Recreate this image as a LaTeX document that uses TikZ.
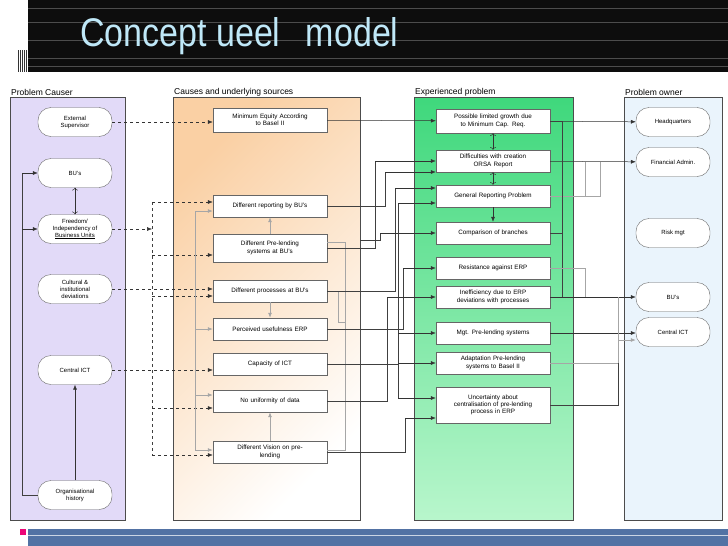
\documentclass[tikz,border=0pt]{standalone}
\usepackage{fontspec}
\setmainfont{Liberation Sans}
\usetikzlibrary{arrows.meta}
\definecolor{lav}{HTML}{E2DAF8}
\definecolor{org}{HTML}{FAD0A4}
\definecolor{grn}{HTML}{3FD87C}
\definecolor{grn2}{HTML}{B8F6CC}
\definecolor{own}{HTML}{EAF4FC}
\definecolor{ttl}{HTML}{BFE8F8}
\definecolor{bar}{HTML}{5272A4}
\tikzset{
 panel/.style={draw=black!70,line width=0.8pt},
 ptitle/.style={anchor=south west,inner sep=1pt,font=\fontsize{8.5}{8.5}\selectfont},
 pill/.style={draw=black!60,fill=white,rounded corners=13pt,minimum width=74pt,minimum height=29pt,align=center,font=\fontsize{6}{7}\selectfont,inner sep=1pt},
 cbox/.style={draw=black!60,fill=white,minimum width=114pt,minimum height=22pt,align=center,font=\fontsize{6.3}{7.3}\selectfont,inner sep=1pt,text width=110pt},
 ar/.style={-{Latex[length=5pt,width=4pt]},black!80,line width=0.5pt},
 dar/.style={ar,dashed},
 gar/.style={-{Latex[length=5pt,width=4pt]},black!35,line width=0.8pt},
 ln/.style={black!75,line width=0.6pt},
 gln/.style={black!35,line width=0.9pt},
}
\begin{document}
\begin{tikzpicture}[x=1pt,y=-1pt]
\useasboundingbox (0,0) rectangle (728,546);
\fill[white] (0,0) rectangle (728,546);
% title bar
\fill[black!95] (28,0) rectangle (728,72);
\foreach \yy in {8,22,40,58,66} \draw[black!70,line width=0.3pt] (28,\yy) -- (728,\yy);
\foreach \xx in {18,20,22,24,26} \draw[black!80,line width=0.8pt] (\xx,50) -- (\xx,72);
\node[anchor=base west,text=ttl,inner sep=0,font=\fontsize{40}{40}\selectfont,xscale=0.85] (title) at (80,46) {Concept ueel\hspace{30pt}model};
% bottom bar
\fill[bar] (28,529) rectangle (728,546);
\draw[white!70!bar,line width=0.4pt] (28,535) -- (728,535);
\fill[magenta!80!red] (20,529) rectangle (26,535);
% panels
\draw[panel,fill=lav] (10,97) rectangle (125,520);
\shade[left color=org,right color=white,shading angle=45] (173,97) rectangle (360,520);
\draw[panel] (173,97) rectangle (360,520);
\shade[top color=grn,bottom color=grn2] (414,97) rectangle (573,520);
\draw[panel] (414,97) rectangle (573,520);
\draw[panel,fill=own] (624,97) rectangle (722,520);
\node[ptitle] (t1) at (10,97) {Problem Causer};
\node[ptitle] (t2) at (173,97) {Causes and underlying sources};
\node[ptitle] (t3) at (414,97) {Experienced problem};
\node[ptitle] (t4) at (624,97) {Problem owner};
% causer
\node[pill] (es) at (75,122) {External\\Supervisor};
\node[pill] (bu) at (75,173) {BU's};
\node[pill] (fr) at (75,229) {Freedom/\\Independency of\\\underline{Business Units}};
\node[pill] (cu) at (75,289) {Cultural \&\\institutional\\deviations};
\node[pill] (ci) at (75,370) {Central ICT};
\node[pill] (oh) at (75,495) {Organisational\\history};
% causes
\node[cbox,minimum height=24pt] (me) at (270,120) {Minimum Equity According\\to Basel II};
\node[cbox] (dr) at (270,206) {Different reporting by BU's};
\node[cbox,minimum height=28pt] (dp) at (270,248) {Different Pre-lending\\systems at BU's};
\node[cbox] (dpr) at (270,291) {Different processes at BU's};
\node[cbox] (pu) at (270,329) {Perceived usefulness ERP};
\node[cbox] (cap) at (270,364) {Capacity of ICT};
\node[cbox] (nu) at (270,401) {No uniformity of data};
\node[cbox] (dv) at (270,452) {Different Vision on pre-\\lending};
% experienced
\node[cbox,minimum height=24pt] (pg) at (493,121) {Possible limited growth due\\to Minimum Cap. Req.};
\node[cbox] (df) at (493,161) {Difficulties with creation\\ORSA Report};
\node[cbox] (gr) at (493,196) {General Reporting Problem};
\node[cbox] (cb) at (493,233) {Comparison of branches};
\node[cbox] (ra) at (493,268) {Resistance against ERP};
\node[cbox] (ie) at (493,297) {Inefficiency due to ERP\\deviations with processes};
\node[cbox] (mg) at (493,333) {Mgt. Pre-lending systems};
\node[cbox] (ad) at (493,363) {Adaptation Pre-lending\\systems to Basel II};
\node[cbox,minimum height=36pt] (un) at (493,405) {Uncertainty about\\centralisation of pre-lending\\process in ERP};
% owners
\node[pill] (hq) at (673,122) {Headquarters};
\node[pill] (fa) at (673,162) {Financial Admin.};
\node[pill] (rm) at (673,233) {Risk mgt};
\node[pill] (ob) at (673,297) {BU's};
\node[pill] (oc) at (673,332) {Central ICT};
% causer links
\draw[ar,<->] (bu) -- (fr);
\draw[ar] (oh) -- (ci);
\draw[ln] (oh.west) -| (22,173);
\draw[ar] (22,173) -- (bu.west);
\draw[ar] (22,229) -- (fr.west);
\draw[dar] (es) -- (me.west |- 0,122);
\draw[dar] (fr.east) -- (152,229);
\draw[ln,dashed] (152,202) -- (152,455);
\draw[dar] (152,202) -- (dr.west |- 0,202);
\draw[dar] (152,255) -- (dp.west |- 0,255);
\draw[dar] (cu.east) -- (dpr.west |- 0,289);
\draw[dar] (152,296) -- (dpr.west |- 0,296);
\draw[dar] (ci) -- (cap.west |- 0,370);
\draw[dar] (152,408) -- (nu.west |- 0,408);
\draw[dar] (152,455) -- (dv.west |- 0,455);
% internal gray links
\draw[gln] (195,211) -- (195,450);
\draw[gar] (195,211) -- (dr.west |- 0,211);
\draw[gar] (195,329) -- (pu.west);
\draw[gar] (195,395) -- (nu.west |- 0,395);
\draw[gar] (195,450) -- (dv.west |- 0,450);
\draw[gar] (dp) -- (dr);
\draw[gar] (dpr) -- (pu);
\draw[gar] (dv) -- (nu);
\draw[gln] (dp.east |- 0,242) -- (345,242) -- (345,450) -- (dv.east |- 0,450);
\draw[gln] (dpr.east) -- (338,291) -- (338,322) -- (345,322);
% causes -> experienced
\draw[ar] (me) -- (pg);
\draw[ln] (dr.east) -- (385,206) -- (385,172);
\draw[ar] (385,172) -- (df.west |- 0,172);
\draw[ln] (dp.east |- 0,248) -- (375,248) -- (375,161);
\draw[ar] (375,161) -- (df.west);
\draw[ln] (dpr.east) -- (395,291) -- (395,188);
\draw[ar] (395,188) -- (gr.west |- 0,188);
\draw[ln] (360,240) -- (380,240) -- (380,233);
\draw[ar] (380,233) -- (cb.west);
\draw[ln] (pu.east) -- (403,329) -- (403,268);
\draw[ar] (403,268) -- (ra.west);
\draw[ln] (nu.east) -- (387,401) -- (387,297);
\draw[ar] (387,297) -- (ie.west);
\draw[ln] (cap.east) -- (398,364);
\draw[ln] (398,203) -- (398,398);
\draw[ar] (398,203) -- (gr.west |- 0,203);
\draw[ar] (398,333) -- (mg.west);
\draw[ar] (398,363) -- (ad.west);
\draw[ar] (398,398) -- (un.west |- 0,398);
\draw[ln] (dv.east) -- (405,452) -- (405,418);
\draw[ar] (405,418) -- (un.west |- 0,418);
% experienced -> owners
\draw[ar] (pg) -- (hq);
\draw[ar] (df) -- (fa);
\draw[ar,<->] (pg) -- (df);
\draw[ar,<->] (df) -- (gr);
\draw[ar] (gr) -- (cb);
\draw[gln] (gr.east) -- (600,196) -- (600,162);
\draw[gln] (585,162) -- (585,196);
\draw[ln] (pg.east) -- (562,121) -- (562,297);
\draw[ln] (cb.east) -- (562,233);
\draw[gln] (ra.east) -- (585,268) -- (585,297);
\draw[ar] (ie.east) -- (ob.west);
\draw[ar] (mg.east) -- (oc.west |- 0,333);
\draw[gln] (ad.east) -- (618,363) -- (618,297);
\draw[ln] (un.east) -- (618,405) -- (618,363);
\draw[gar] (618,340) -- (oc.west |- 0,340);
\end{tikzpicture}
\end{document}
